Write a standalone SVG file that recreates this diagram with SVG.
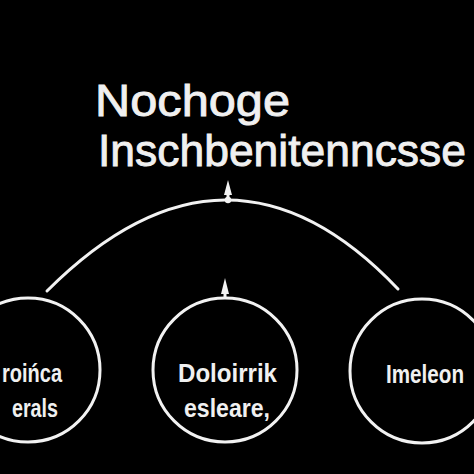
<svg xmlns="http://www.w3.org/2000/svg" width="474" height="474" viewBox="0 0 474 474">
<style>
.ln{fill:none;stroke:#f2f2f2;stroke-width:3;stroke-linecap:round}
.ttl{font-family:"Liberation Sans",Arial,sans-serif;font-size:45px;fill:#f0f0f0;stroke:#f0f0f0;stroke-width:0.9}
.lbl{font-family:"Liberation Sans",Arial,sans-serif;font-weight:bold;font-size:25px;fill:#f0f0f0}
.hd{fill:#f2f2f2}
</style>
<rect width="474" height="474" fill="#000"/>
<g id="title">
<text class="ttl" x="95" y="116" textLength="195" lengthAdjust="spacingAndGlyphs">Nochoge</text>
<text class="ttl" x="98" y="166" textLength="368" lengthAdjust="spacingAndGlyphs">Inschbenitenncsse</text>
</g>
<g id="connectors">
<path class="ln" d="M47,291 Q228,110 398,289"/>
<line class="ln" x1="228" y1="200" x2="228" y2="192"/>
<path class="hd" d="M228,180 L232,195 L224,195 Z"/>
<circle class="hd" cx="228" cy="200" r="3.2"/>
<line class="ln" x1="225" y1="297" x2="225" y2="290"/>
<path class="hd" d="M225,278 L229,294 L221,294 Z"/>
</g>
<g id="node-left">
<circle class="ln" cx="28" cy="370" r="72"/>
<text class="lbl" x="2" y="382" textLength="60" lengthAdjust="spacingAndGlyphs">roińca</text>
<text class="lbl" x="12" y="417" textLength="46" lengthAdjust="spacingAndGlyphs">erals</text>
</g>
<g id="node-middle">
<circle class="ln" cx="225" cy="370" r="72"/>
<text class="lbl" x="178" y="382" textLength="99" lengthAdjust="spacingAndGlyphs">Doloirrik</text>
<text class="lbl" x="184" y="417" textLength="86" lengthAdjust="spacingAndGlyphs">esleare,</text>
</g>
<g id="node-right">
<circle class="ln" cx="422" cy="371" r="72"/>
<text class="lbl" x="386" y="383" textLength="78" lengthAdjust="spacingAndGlyphs">Imeleon</text>
</g>
</svg>
